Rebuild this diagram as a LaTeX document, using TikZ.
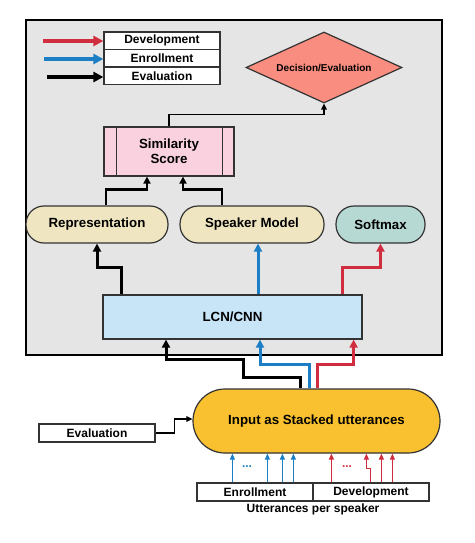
\documentclass[tikz,border=0pt]{standalone}
\usepackage{fontspec}
\setmainfont{Liberation Sans}
\usetikzlibrary{shapes.geometric,arrows.meta,calc}
\definecolor{myred}{HTML}{D02E3E}
\definecolor{myblue}{HTML}{1C7EC4}
\definecolor{bggray}{HTML}{E5E5E5}
\definecolor{lcnfill}{HTML}{C7E5F7}
\definecolor{beige}{HTML}{EFE6C1}
\definecolor{teal}{HTML}{B6D9D3}
\definecolor{pinkf}{HTML}{F9D1DF}
\definecolor{salmon}{HTML}{F98D7F}
\definecolor{golden}{HTML}{F9C12F}
\definecolor{edge}{HTML}{333333}
\begin{document}
\begin{tikzpicture}[x=1pt,y=-1pt,
  mainfont/.style={font=\fontsize{13.3}{15}\selectfont\bfseries},
  smallfont/.style={font=\fontsize{12}{14}\selectfont\bfseries},
  box/.style={draw=edge,line width=1.2pt,inner sep=0pt,align=center},
  pill/.style={box,rounded corners=18pt,minimum height=37pt,mainfont},
  legbox/.style={box,fill=white,minimum width=116pt,minimum height=17.5pt,smallfont},
  thick arrow/.style={line width=3pt,-{Triangle[length=8pt,width=8pt]}},
  leg arrow/.style={line width=4pt,-{Triangle[length=10pt,width=10pt]}},
  thin arrow/.style={line width=2.2pt,-{Triangle[length=7pt,width=7pt]}},
  link/.style={line width=1.4pt,-{Triangle[length=6pt,width=5.5pt]}},
  small arrow/.style={line width=1.2pt,-{Triangle[length=6pt,width=5pt]}}
]
\useasboundingbox (0,0) rectangle (474,543);
% background frame
\node[draw=black,line width=2pt,fill=bggray,minimum width=416pt,minimum height=335pt,inner sep=0pt,anchor=north west] (frame) at (25,19) {};

% legend
\node[legbox] (ldev) at (162,40.8) {Development};
\node[legbox] (lenr) at (162,58.3) {Enrollment};
\node[legbox] (leval) at (162,75.8) {Evaluation};
\coordinate (lr) at (43,41);
\coordinate (lb) at (44,59);
\coordinate (lk) at (47,77);
\draw[leg arrow,myred] (lr) -- (lr -| ldev.west);
\draw[leg arrow,myblue] (lb) -- (lb -| lenr.west);
\draw[leg arrow,black] (lk) -- (lk -| leval.west);

% decision diamond
\node[diamond,aspect=2.2,draw=edge,line width=1.2pt,fill=salmon,minimum width=156pt,minimum height=71pt,inner sep=0pt,font=\fontsize{10}{12}\selectfont\bfseries] (dia) at (324,67.5) {Decision/Evaluation};

% similarity score
\node[box,fill=pinkf,minimum width=130pt,minimum height=49pt,mainfont] (sim) at (169,151.5) {Similarity\\Score};
\draw[draw=edge,line width=1.2pt] ([xshift=13pt]sim.north west) -- ([xshift=13pt]sim.south west);
\draw[draw=edge,line width=1.2pt] ([xshift=-12pt]sim.north east) -- ([xshift=-12pt]sim.south east);

% middle pills
\node[pill,fill=beige,minimum width=142pt] (rep) at (97,224.5) {Representation};
\node[pill,fill=beige,minimum width=144pt] (spk) at (252,224.5) {Speaker Model};
\node[pill,fill=teal,minimum width=89pt] (soft) at (380.5,224.5) {Softmax};

% LCN/CNN
\node[box,fill=lcnfill,minimum width=259pt,minimum height=44pt,mainfont] (lcn) at (232.5,317) {LCN/CNN};

% input
\node[box,fill=golden,rounded corners=32pt,minimum width=247pt,minimum height=64pt,mainfont] (inp) at (316.5,421) {Input as Stacked utterances};

% evaluation box
\node[box,fill=white,minimum width=116pt,minimum height=18pt,smallfont] (evalb) at (97,433) {Evaluation};

% bottom boxes
\node[box,fill=white,minimum width=116pt,minimum height=18pt,smallfont] (enr) at (255,492) {Enrollment};
\node[box,fill=white,minimum width=116pt,minimum height=18pt,smallfont] (dev) at (371,492) {Development};
\node[smallfont,inner sep=0pt] (utt) at (313,509) {Utterances per speaker};

% connectors top
\draw[link,black] (sim.north) -- ++(0,-12) -| (dia.south);
\draw[thin arrow,black] ([xshift=9pt]rep.north) -- ++(0,-16) -| ([xshift=-22pt]sim.south);
\draw[thin arrow,black] ([xshift=-30pt]spk.north) -- ++(0,-16) -| ([xshift=14pt]sim.south);

% LCN to pills
\draw[thick arrow,black] ([xshift=19pt]lcn.north west) -- ++(0,-27) -| (rep.south);
\draw[thick arrow,myblue] ([xshift=6pt]spk.south |- lcn.north) -- ([xshift=6pt]spk.south);
\draw[thick arrow,myred] ([xshift=-20pt]lcn.north east) -- ++(0,-27) -| (soft.south);

% input to LCN
\draw[thick arrow,black] ([xshift=-16.5pt]inp.north) -- ++(0,-11) -- ++(-57,0) -- ++(0,-18) -| ([xshift=-66.5pt]lcn.south);
\draw[thick arrow,myblue] ([xshift=-7.5pt]inp.north) -- ++(0,-24) -| ([xshift=27.5pt]lcn.south);
\draw[thick arrow,myred] ([xshift=0.5pt]inp.north) -- ++(0,-24) -| ([xshift=-9pt]lcn.south east);

% evaluation to input
\draw[link,black] (evalb.east) -- ++(19,0) |- ([yshift=2pt]inp.west);

% utterance arrows
\foreach \x in {36,71,86,97}{
  \draw[small arrow,myblue] ([xshift=\x pt]enr.north west) coordinate (a) -- (a |- inp.south);
}
\foreach \x in {19,69,80}{
  \draw[small arrow,myred] ([xshift=\x pt]dev.north west) coordinate (a) -- (a |- inp.south);
}
\coordinate (jog) at ([xshift=54pt]dev.north west);
\draw[small arrow,myred] ([xshift=58pt]dev.north west) -- ++(0,-14) -- ++(-4,0) -- (jog |- inp.south);
\node[font=\fontsize{12}{14}\selectfont\bfseries,text=myblue,inner sep=0pt] (bdots) at (247,467) {...};
\node[font=\fontsize{12}{14}\selectfont\bfseries,text=myred,inner sep=0pt] (rdots) at (347,467) {...};
\end{tikzpicture}
\end{document}
